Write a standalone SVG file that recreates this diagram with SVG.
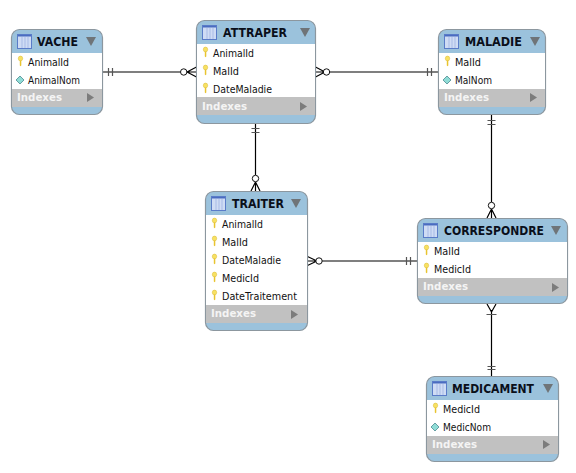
<svg xmlns="http://www.w3.org/2000/svg" width="576" height="473" viewBox="0 0 576 473">
<style>
.card{fill:#9bc2dc;stroke:#8c979f;stroke-width:1.2}
.body{fill:#fff}.idx{fill:#c1c1c1}
.t{font:bold 11.500px "DejaVu Sans",sans-serif;fill:#0a0f1a}
.f{font:10.500px "DejaVu Sans",sans-serif;fill:#111}
.i{font:bold 11px "DejaVu Sans",sans-serif;fill:#f4f4f4}
.tri{fill:#6f7478}.tri2{fill:#7c7c7c}
.c{fill:none;stroke:#000;stroke-width:1.200}
.b{fill:none;stroke:#555;stroke-width:1.200}
.o{fill:#fff;stroke:#111;stroke-width:1}
</style>
<defs>
<g id="icon"><rect x="0.500" y="0.500" width="14" height="14" fill="#cfdcf4" stroke="#5a7cc8"/><rect x="1" y="1" width="13" height="1.500" fill="#4a6cc0"/><path d="M5 3v11M8 3v11M11 3v11" stroke="#a8bbe6" stroke-width="1" fill="none"/></g>
<g id="key"><ellipse cx="2.500" cy="2.500" rx="2.200" ry="2.400" fill="#f7e163" stroke="#d8b62c" stroke-width=".5"/><path d="M1.800 4.500h1.500v5l-.7 .8-.8-.8z" fill="#e8c42f"/></g>
<path id="dia" d="M4 0 8 4 4 8 0 4z" fill="#8fdcd6" stroke="#4c8a90" stroke-width=".8"/>
</defs>
<g id="connectors">
<path class="c" d="M102.500 72H180.500M187 72H196.500M187 72 196.500 67M187 72 196.500 77"/><circle class="o" cx="183.700" cy="72" r="3.200"/><path class="b" d="M108.500 68v8M112.500 68v8"/>
<path class="c" d="M315.500 72H325M329.500 72H438.500M325 72 315.500 67M325 72 315.500 77"/><circle class="o" cx="326.500" cy="72" r="3.200"/><path class="b" d="M427.500 68v8M431.500 68v8"/>
<path class="c" d="M255.500 123V175M255.500 182V191M255.500 182 251 191M255.500 182 260 191"/><circle class="o" cx="255.500" cy="178.500" r="3.200"/><path class="b" d="M251.500 128.500h8M251.500 132.500h8"/>
<path class="c" d="M491.500 115V202M491.500 209V218M491.500 209 487 218M491.500 209 496 218"/><circle class="o" cx="491.500" cy="205.500" r="3.200"/><path class="b" d="M487.500 120.500h8M487.500 124.500h8"/>
<path class="c" d="M307.500 261H317M322 261H417.500M317 261 307.500 256.500M317 261 307.500 265.500"/><circle class="o" cx="319" cy="261" r="3.200"/><path class="b" d="M406.500 257v8M410.500 257v8"/>
<path class="c" d="M491.500 310V376M491.500 312 487 304M491.500 312 496 304"/><path class="b" d="M486.500 314.500h10M487.500 366.500h8M487.500 369.500h8"/>
</g>
<g id="vache">
<rect class="card" x="11.500" y="29.500" width="91" height="85" rx="8"/><rect class="body" x="12" y="53" width="90" height="36"/><rect class="idx" x="12" y="89" width="90" height="18"/>
<use href="#icon" x="17" y="34"/><text class="t" x="37" y="46" textLength="41" lengthAdjust="spacingAndGlyphs">VACHE</text><path class="tri" d="M86 37h10l-5 9z"/>
<use href="#key" x="18" y="56"/><text class="f" x="28" y="66" textLength="41" lengthAdjust="spacingAndGlyphs">AnimalId</text>
<use href="#dia" x="16" y="76"/><text class="f" x="28" y="84" textLength="52" lengthAdjust="spacingAndGlyphs">AnimalNom</text>
<text class="i" x="17" y="101" textLength="45" lengthAdjust="spacingAndGlyphs">Indexes</text><path class="tri2" d="M87 93l7 4.500-7 4.500z"/>
</g>
<g id="attraper">
<rect class="card" x="196.500" y="20.500" width="119" height="103" rx="8"/><rect class="body" x="197" y="44" width="118" height="53"/><rect class="idx" x="197" y="97" width="118" height="18"/>
<use href="#icon" x="202" y="25"/><text class="t" x="223" y="37" textLength="64" lengthAdjust="spacingAndGlyphs">ATTRAPER</text><path class="tri" d="M300 28h10l-5 9z"/>
<use href="#key" x="203" y="47"/><text class="f" x="213" y="57" textLength="41" lengthAdjust="spacingAndGlyphs">AnimalId</text>
<use href="#key" x="203" y="65"/><text class="f" x="213" y="75" textLength="26" lengthAdjust="spacingAndGlyphs">MalId</text>
<use href="#key" x="203" y="83"/><text class="f" x="213" y="93" textLength="59" lengthAdjust="spacingAndGlyphs">DateMaladie</text>
<text class="i" x="202" y="110" textLength="45" lengthAdjust="spacingAndGlyphs">Indexes</text><path class="tri2" d="M300 102l7 4.500-7 4.500z"/>
</g>
<g id="maladie">
<rect class="card" x="438.500" y="29.500" width="107" height="85" rx="8"/><rect class="body" x="439" y="53" width="106" height="36"/><rect class="idx" x="439" y="89" width="106" height="18"/>
<use href="#icon" x="444" y="34"/><text class="t" x="465" y="46" textLength="57" lengthAdjust="spacingAndGlyphs">MALADIE</text><path class="tri" d="M530 37h10l-5 9z"/>
<use href="#key" x="445" y="56"/><text class="f" x="455" y="66" textLength="26" lengthAdjust="spacingAndGlyphs">MalId</text>
<use href="#dia" x="443" y="76"/><text class="f" x="455" y="84" textLength="37" lengthAdjust="spacingAndGlyphs">MalNom</text>
<text class="i" x="444" y="101" textLength="45" lengthAdjust="spacingAndGlyphs">Indexes</text><path class="tri2" d="M530 93l7 4.500-7 4.500z"/>
</g>
<g id="traiter">
<rect class="card" x="205.500" y="191.500" width="102" height="139" rx="8"/><rect class="body" x="206" y="215" width="101" height="90"/><rect class="idx" x="206" y="305" width="101" height="18"/>
<use href="#icon" x="211" y="196"/><text class="t" x="232" y="208" textLength="52" lengthAdjust="spacingAndGlyphs">TRAITER</text><path class="tri" d="M291 199h10l-5 9z"/>
<use href="#key" x="212" y="218"/><text class="f" x="222" y="228" textLength="41" lengthAdjust="spacingAndGlyphs">AnimalId</text>
<use href="#key" x="212" y="236"/><text class="f" x="222" y="246" textLength="26" lengthAdjust="spacingAndGlyphs">MalId</text>
<use href="#key" x="212" y="254"/><text class="f" x="222" y="264" textLength="59" lengthAdjust="spacingAndGlyphs">DateMaladie</text>
<use href="#key" x="212" y="272"/><text class="f" x="222" y="282" textLength="37" lengthAdjust="spacingAndGlyphs">MedicId</text>
<use href="#key" x="212" y="290"/><text class="f" x="222" y="300" textLength="75" lengthAdjust="spacingAndGlyphs">DateTraitement</text>
<text class="i" x="211" y="317" textLength="45" lengthAdjust="spacingAndGlyphs">Indexes</text><path class="tri2" d="M291 310l7 4.500-7 4.500z"/>
</g>
<g id="correspondre">
<rect class="card" x="417.500" y="218.500" width="150" height="85" rx="8"/><rect class="body" x="418" y="242" width="149" height="36"/><rect class="idx" x="418" y="278" width="149" height="18"/>
<use href="#icon" x="423" y="223"/><text class="t" x="444" y="235" textLength="100" lengthAdjust="spacingAndGlyphs">CORRESPONDRE</text><path class="tri" d="M551 226h10l-5 9z"/>
<use href="#key" x="424" y="245"/><text class="f" x="434" y="255" textLength="26" lengthAdjust="spacingAndGlyphs">MalId</text>
<use href="#key" x="424" y="263"/><text class="f" x="434" y="273" textLength="37" lengthAdjust="spacingAndGlyphs">MedicId</text>
<text class="i" x="423" y="290" textLength="45" lengthAdjust="spacingAndGlyphs">Indexes</text><path class="tri2" d="M552 283l7 4.500-7 4.500z"/>
</g>
<g id="medicament">
<rect class="card" x="426.500" y="376.500" width="132" height="85" rx="8"/><rect class="body" x="427" y="400" width="131" height="36"/><rect class="idx" x="427" y="436" width="131" height="18"/>
<use href="#icon" x="432" y="381"/><text class="t" x="452" y="393" textLength="82" lengthAdjust="spacingAndGlyphs">MEDICAMENT</text><path class="tri" d="M543 384h10l-5 9z"/>
<use href="#key" x="433" y="403"/><text class="f" x="443" y="413" textLength="37" lengthAdjust="spacingAndGlyphs">MedicId</text>
<use href="#dia" x="431" y="423"/><text class="f" x="443" y="431" textLength="48" lengthAdjust="spacingAndGlyphs">MedicNom</text>
<text class="i" x="432" y="448" textLength="45" lengthAdjust="spacingAndGlyphs">Indexes</text><path class="tri2" d="M543 440l7 4.500-7 4.500z"/>
</g>
</svg>
